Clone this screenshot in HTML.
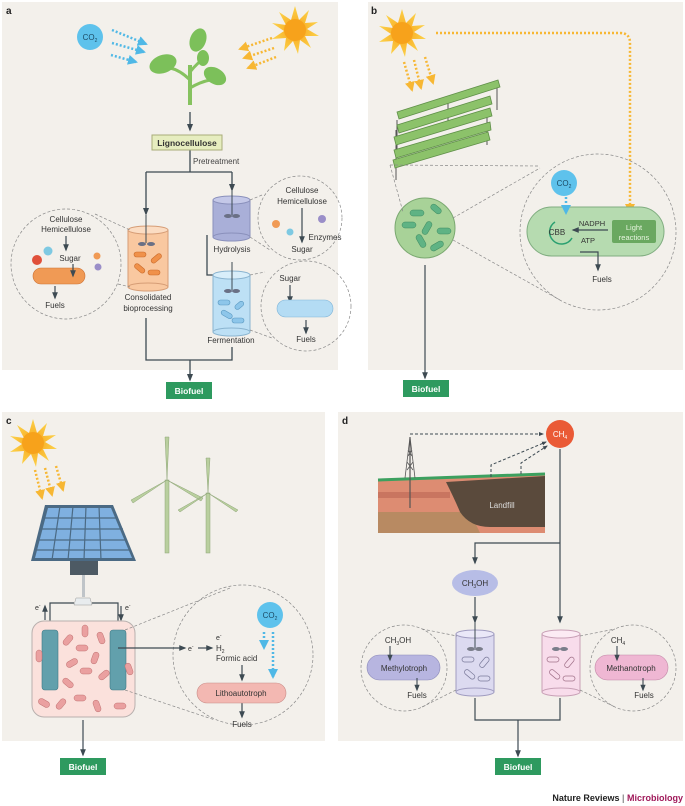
<!DOCTYPE html>
<html><head><meta charset="utf-8"><style>
html,body{margin:0;padding:0;background:#fff;width:685px;height:806px;overflow:hidden}
svg{display:block;font-family:"Liberation Sans",sans-serif}
</style></head><body>
<svg width="685" height="806" viewBox="0 0 685 806" xmlns="http://www.w3.org/2000/svg">
<defs>
<marker id="ah" viewBox="0 0 10 10" refX="8" refY="5" markerWidth="6" markerHeight="6" orient="auto"><path d="M0,1 L10,5 L0,9 z" fill="#3d4a52"/></marker>
<marker id="ay" viewBox="0 0 10 10" refX="8" refY="5" markerWidth="4" markerHeight="4" orient="auto"><path d="M0,0 L10,5 L0,10 z" fill="#f7b733"/></marker>
<marker id="ab" viewBox="0 0 10 10" refX="8" refY="5" markerWidth="4" markerHeight="4" orient="auto"><path d="M0,0 L10,5 L0,10 z" fill="#4fb8e6"/></marker>
<marker id="ad" viewBox="0 0 10 10" refX="8" refY="5" markerWidth="5" markerHeight="5" orient="auto"><path d="M0,1 L10,5 L0,9 z" fill="#3d4a52"/></marker>
<radialGradient id="sun"><stop offset="0" stop-color="#f7a21b"/><stop offset="1" stop-color="#fcd24a"/></radialGradient>
<g id="sunshape"><polygon fill="url(#sun)" points="0,-24 4,-10 14,-20 10,-7 23,-8 12,-1 24,6 10,6 16,18 5,10 3,24 -2,11 -11,21 -9,8 -23,9 -11,1 -23,-7 -9,-5 -16,-18 -4,-10"/><circle r="11" fill="#f7a21b"/></g>
</defs>
<g fill="#f3f0eb"><rect x="2" y="2" width="336" height="368"/><rect x="368" y="2" width="315" height="368"/><rect x="2" y="412" width="323" height="329"/><rect x="338" y="412" width="345" height="329"/></g>
<g font-weight="bold" font-size="10" fill="#222"><text x="6" y="14">a</text><text x="371" y="14">b</text><text x="6" y="424">c</text><text x="342" y="424">d</text></g>

<!-- PANEL A -->
<circle cx="90" cy="37" r="13" fill="#5ec2ec"/><text x="90" y="40" font-size="8" text-anchor="middle" fill="#1d4c66">CO<tspan font-size="5" dy="2">2</tspan></text>
<g stroke="#4fb8e6" stroke-width="2.5" stroke-dasharray="2,2" marker-end="url(#ab)" fill="none"><path d="M112,30 L146,44"/><path d="M112,43 L144,52"/><path d="M111,55 L136,62"/></g>
<use href="#sunshape" x="295" y="30"/>
<g stroke="#f7b733" stroke-width="2.5" stroke-dasharray="2,2" marker-end="url(#ay)" fill="none"><path d="M272,38 L240,49"/><path d="M274,48 L244,58"/><path d="M276,57 L248,68"/></g>
<g fill="#7cc05a"><path d="M190,105 L190,65" stroke="#86c25f" stroke-width="4"/><path d="M190,80 Q180,70 170,68" stroke="#86c25f" stroke-width="3" fill="none"/><path d="M190,72 Q198,62 205,58" stroke="#86c25f" stroke-width="3" fill="none"/><path d="M190,88 Q200,82 210,80" stroke="#86c25f" stroke-width="3" fill="none"/><ellipse cx="163" cy="64" rx="14" ry="9" transform="rotate(-20 163 64)"/><ellipse cx="198" cy="40" rx="8" ry="12" transform="rotate(20 198 40)"/><ellipse cx="203" cy="58" rx="6" ry="8"/><ellipse cx="215" cy="76" rx="12" ry="8" transform="rotate(30 215 76)"/></g>
<g stroke="#3d4a52" stroke-width="1.3" fill="none">
<path d="M190,112 L190,130" marker-end="url(#ah)"/>
<path d="M190,150 L190,172 M146,172 L232,172"/>
<path d="M146,172 L146,214" marker-end="url(#ah)"/><path d="M232,172 L232,190" marker-end="url(#ah)"/>
<path d="M207,235 L207,275 L213,275"/>
<path d="M146,318 L146,360 L232,360 L232,347"/><path d="M190,360 L190,380" marker-end="url(#ah)"/>
</g>
<rect x="152" y="135" width="70" height="15" fill="#e6edbf" stroke="#a8ad78"/><text x="187" y="146" font-size="8.5" font-weight="bold" text-anchor="middle" fill="#333">Lignocellulose</text>
<text x="193" y="164" font-size="8" fill="#444">Pretreatment</text>
<rect x="213" y="200" width="37" height="37" fill="#a9afd8" stroke="#8a90bb"/><ellipse cx="231.5" cy="200" rx="18.5" ry="4" fill="#c4c8e8" stroke="#8a90bb"/><ellipse cx="231.5" cy="237" rx="18.5" ry="4" fill="#a9afd8" stroke="#8a90bb"/>
<path d="M232,190 L232,215" stroke="#3d4a52"/><ellipse cx="228" cy="216" rx="4" ry="2" fill="#6a7085"/><ellipse cx="236" cy="216" rx="4" ry="2" fill="#6a7085"/>
<text x="232" y="252" font-size="8" text-anchor="middle" fill="#333">Hydrolysis</text>
<rect x="213" y="275" width="37" height="57" fill="#bde0f5" stroke="#8ab4d0"/><ellipse cx="231.5" cy="275" rx="18.5" ry="4" fill="#d8eefa" stroke="#8ab4d0"/><ellipse cx="231.5" cy="332" rx="18.5" ry="4" fill="#bde0f5" stroke="#8ab4d0"/>
<path d="M232,262 L232,290" stroke="#3d4a52"/><ellipse cx="228" cy="291" rx="4" ry="2" fill="#6a7085"/><ellipse cx="236" cy="291" rx="4" ry="2" fill="#6a7085"/>
<g fill="#8dc6ea" stroke="#5a98c0" stroke-width="0.6"><rect x="218" y="300" width="12" height="5" rx="2.5"/><rect x="234" y="303" width="10" height="5" rx="2.5" transform="rotate(-40 239 305)"/><rect x="221" y="312" width="12" height="5" rx="2.5" transform="rotate(30 227 314)"/><rect x="232" y="318" width="12" height="5" rx="2.5"/></g>
<text x="231" y="343" font-size="8" text-anchor="middle" fill="#333">Fermentation</text>
<rect x="128" y="230" width="40" height="57" fill="#f9c8a0" stroke="#d69d76"/><ellipse cx="148" cy="230" rx="20" ry="4" fill="#fbdcc2" stroke="#d69d76"/><ellipse cx="148" cy="287" rx="20" ry="4" fill="#f9c8a0" stroke="#d69d76"/>
<path d="M146,215 L146,243" stroke="#3d4a52"/><ellipse cx="142" cy="244" rx="4" ry="2" fill="#6a7085"/><ellipse cx="151" cy="244" rx="4" ry="2" fill="#6a7085"/>
<g fill="#f0914a" stroke="#c96a2a" stroke-width="0.6"><rect x="134" y="252" width="12" height="5" rx="2.5"/><rect x="150" y="256" width="12" height="5" rx="2.5" transform="rotate(-40 156 258)"/><rect x="134" y="266" width="12" height="5" rx="2.5" transform="rotate(40 140 268)"/><rect x="148" y="270" width="12" height="5" rx="2.5"/></g>
<text x="148" y="300" font-size="8" text-anchor="middle" fill="#333">Consolidated</text><text x="148" y="311" font-size="8" text-anchor="middle" fill="#333">bioprocessing</text>
<g stroke="#888" stroke-width="0.7" stroke-dasharray="3,2" fill="none"><circle cx="66" cy="264" r="55"/><circle cx="300" cy="218" r="42"/><circle cx="306" cy="306" r="45"/><path d="M95,214 L130,230 M118,284 L130,287 M250,200 L262,195 M250,237 L270,250 M250,275 L265,272 M250,330 L272,338"/></g>
<g font-size="8" fill="#333" text-anchor="middle"><text x="66" y="222">Cellulose</text><text x="66" y="232">Hemicellulose</text><text x="70" y="261">Sugar</text><text x="55" y="308">Fuels</text>
<text x="302" y="193">Cellulose</text><text x="302" y="204">Hemicellulose</text><text x="302" y="252">Sugar</text><text x="325" y="240">Enzymes</text>
<text x="290" y="281">Sugar</text><text x="306" y="342">Fuels</text></g>
<rect x="33" y="268" width="52" height="16" rx="8" fill="#f09a55" stroke="#cc7033" stroke-width="0.6"/>
<g stroke="#3d4a52" stroke-width="1.2" fill="none"><path d="M66,236 L66,250" marker-end="url(#ah)"/><path d="M73,264 L73,276" marker-end="url(#ah)"/><path d="M55,286 L55,298" marker-end="url(#ah)"/><path d="M302,208 L302,242" marker-end="url(#ah)"/><path d="M290,285 L290,302" marker-end="url(#ah)"/><path d="M306,320 L306,333" marker-end="url(#ah)"/></g>
<g><circle cx="48" cy="251" r="4.5" fill="#7ec9e2"/><circle cx="37" cy="260" r="5" fill="#e0503a"/><circle cx="97" cy="256" r="3.5" fill="#f09a55"/><circle cx="98" cy="267" r="3.5" fill="#9a8ec8"/><circle cx="276" cy="224" r="4" fill="#f09a55"/><circle cx="290" cy="232" r="3.5" fill="#7ec9e2"/><circle cx="322" cy="219" r="4" fill="#9a8ec8"/></g>
<rect x="277" y="300" width="56" height="17" rx="8.5" fill="#b4dcf4" stroke="#80b5d8" stroke-width="0.6"/>
<rect x="166" y="382" width="46" height="17" fill="#2e9a5f"/><text x="189" y="394" font-size="8.5" font-weight="bold" fill="#fff" text-anchor="middle">Biofuel</text>

<!-- PANEL B -->
<use href="#sunshape" x="402" y="33"/>
<path d="M436,33 L620,33 Q630,33 630,43 L630,212" stroke="#f7b733" stroke-width="2.5" stroke-dasharray="2,2" fill="none" marker-end="url(#ay)"/>
<g stroke="#f7b733" stroke-width="2.5" stroke-dasharray="2,2" marker-end="url(#ay)" fill="none"><path d="M404,62 L412,90"/><path d="M414,60 L421,88"/><path d="M425,57 L433,83"/></g>
<g stroke="#555" stroke-width="1"><path d="M396,130 L396,180 M487,110 L487,145 M397,120 L397,155 M448,100 L448,128 M497,85 L497,110"/></g>
<g fill="#8cc26a" stroke="#5f8f48" stroke-width="0.8">
<path d="M397,112 L498,80 L500,87 L399,119 z"/><path d="M397,125 L490,96 L492,104 L399,133 z"/><path d="M394,137 L490,108 L492,116 L396,145 z"/><path d="M394,150 L490,122 L491,130 L396,158 z"/><path d="M393,160 L488,132 L490,140 L395,168 z"/></g>
<circle cx="425" cy="228" r="30" fill="#a8d298" stroke="#7aa870"/>
<g fill="#5fb384" stroke="#3d8a60" stroke-width="0.5"><rect x="410" y="210" width="14" height="6" rx="3"/><rect x="430" y="206" width="12" height="6" rx="3" transform="rotate(40 436 209)"/><rect x="402" y="222" width="14" height="6" rx="3"/><rect x="420" y="225" width="14" height="6" rx="3" transform="rotate(-60 427 228)"/><rect x="437" y="228" width="14" height="6" rx="3"/><rect x="414" y="238" width="14" height="6" rx="3" transform="rotate(60 421 241)"/><rect x="430" y="243" width="14" height="6" rx="3" transform="rotate(-30 437 246)"/></g>
<g stroke="#888" stroke-width="0.7" stroke-dasharray="3,2" fill="none"><circle cx="598" cy="232" r="78"/><path d="M390,165 L403,212 M390,165 L540,166 M453,218 L540,168 M453,240 L560,300"/></g>
<path d="M425,265 L425,378" stroke="#3d4a52" stroke-width="1.2" marker-end="url(#ah)"/>
<circle cx="564" cy="183" r="13" fill="#5ec2ec"/><text x="564" y="186" font-size="8" text-anchor="middle" fill="#1d4c66">CO<tspan font-size="5" dy="2">2</tspan></text>
<rect x="527" y="207" width="137" height="49" rx="24.5" fill="#b6dbb0" stroke="#80ad80"/>
<path d="M566,197 L566,213" stroke="#4fb8e6" stroke-width="2.5" stroke-dasharray="2,2" marker-end="url(#ab)"/>
<rect x="612" y="220" width="44" height="23" fill="#6aa860" rx="2"/><text x="634" y="230" font-size="7.5" fill="#e8f5e0" text-anchor="middle">Light</text><text x="634" y="240" font-size="7.5" fill="#e8f5e0" text-anchor="middle">reactions</text>
<path d="M555,222 A12,12 0 1,0 572,238" stroke="#2aa070" stroke-width="1.5" fill="none"/>
<text x="557" y="235" font-size="8" text-anchor="middle" fill="#333">CBB</text><text x="592" y="226" font-size="7.5" text-anchor="middle" fill="#333">NADPH</text><text x="588" y="243" font-size="7.5" text-anchor="middle" fill="#333">ATP</text>
<g stroke="#3d4a52" stroke-width="1.2" fill="none"><path d="M608,230 L573,230" marker-end="url(#ah)"/><path d="M580,252 L598,252 L598,270" marker-end="url(#ah)"/></g>
<text x="602" y="282" font-size="8" text-anchor="middle" fill="#333">Fuels</text>
<rect x="403" y="380" width="46" height="17" fill="#2e9a5f"/><text x="426" y="392" font-size="8.5" font-weight="bold" fill="#fff" text-anchor="middle">Biofuel</text>

<!-- PANEL C -->
<use href="#sunshape" x="33" y="443"/>
<g stroke="#f7b733" stroke-width="2.5" stroke-dasharray="2,2" marker-end="url(#ay)" fill="none"><path d="M35,470 L42,498"/><path d="M45,468 L52,495"/><path d="M56,466 L63,490"/></g>
<path d="M45,505 L113,505 L136,561 L31,561 z" fill="#4b6a84"/>
<g fill="#7fb0e0"><path d="M48,508 L111,508 L132,558 L35,558 z"/></g>
<g stroke="#4b6a84" stroke-width="1.2"><path d="M60,506 L52,560 M73,506 L68,560 M86,506 L84,560 M99,506 L101,560 M44,518 L118,518 M40,529 L123,529 M37,540 L127,540 M34,550 L131,550"/></g>
<rect x="70" y="561" width="28" height="14" fill="#4d5a64"/><rect x="82" y="575" width="3" height="22" fill="#bfc4c8"/>
<path d="M76,598 L90,598 L92,605 L74,605 z" fill="#e8ecee" stroke="#999" stroke-width="0.5"/>
<g stroke="#3d4a52" stroke-width="1.2" fill="none"><path d="M74,603 L50,603 L50,630"/><path d="M92,603 L118,603 L118,630"/><path d="M45,620 L45,606" marker-end="url(#ah)"/><path d="M121,606 L121,620" marker-end="url(#ah)"/></g>
<text x="35" y="610" font-size="7" fill="#333">e<tspan font-size="5" dy="-3">-</tspan></text><text x="125" y="610" font-size="7" fill="#333">e<tspan font-size="5" dy="-3">-</tspan></text>
<g fill="#b9cf9e" stroke="#8ea578" stroke-width="0.5"><rect x="165" y="480" width="4" height="73"/><rect x="206" y="493" width="4" height="60"/><path d="M167,480 L165,437 L169,437 z"/><path d="M167,480 L131,500 L133,503 z"/><path d="M167,480 L203,498 L201,501 z"/><path d="M208,493 L206,458 L210,458 z"/><path d="M208,493 L178,510 L180,512 z"/><path d="M208,493 L238,510 L236,512 z"/></g>
<rect x="32" y="621" width="103" height="96" rx="12" fill="#fbe1dc" stroke="#b8b0ae"/>
<rect x="42" y="630" width="16" height="60" rx="3" fill="#62a0ac" stroke="#3e7a86" stroke-width="0.6"/><rect x="110" y="630" width="16" height="60" rx="3" fill="#62a0ac" stroke="#3e7a86" stroke-width="0.6"/>
<g fill="#eaa0a0" stroke="#c07272" stroke-width="0.5"><rect x="82" y="625" width="6" height="12" rx="3"/><rect x="65" y="634" width="6" height="12" rx="3" transform="rotate(40 68 640)"/><rect x="98" y="632" width="6" height="12" rx="3" transform="rotate(-20 101 638)"/><rect x="76" y="645" width="12" height="6" rx="3"/><rect x="92" y="652" width="6" height="12" rx="3" transform="rotate(20 95 658)"/><rect x="66" y="660" width="12" height="6" rx="3" transform="rotate(-30 72 663)"/><rect x="80" y="668" width="12" height="6" rx="3"/><rect x="98" y="672" width="12" height="6" rx="3" transform="rotate(-40 104 675)"/><rect x="38" y="700" width="12" height="6" rx="3" transform="rotate(30 44 703)"/><rect x="58" y="698" width="6" height="12" rx="3" transform="rotate(40 61 704)"/><rect x="74" y="695" width="12" height="6" rx="3"/><rect x="94" y="700" width="6" height="12" rx="3" transform="rotate(-20 97 706)"/><rect x="114" y="703" width="12" height="6" rx="3"/><rect x="62" y="680" width="12" height="6" rx="3" transform="rotate(40 68 683)"/><rect x="36" y="650" width="6" height="12" rx="3"/><rect x="126" y="663" width="6" height="12" rx="3" transform="rotate(-20 129 669)"/></g>
<g stroke="#888" stroke-width="0.7" stroke-dasharray="3,2" fill="none"><circle cx="243" cy="655" r="70"/><path d="M125,630 L230,588 M125,690 L215,720"/></g>
<g stroke="#3d4a52" stroke-width="1.2" fill="none"><path d="M118,648 L185,648" marker-end="url(#ah)"/><path d="M198,648 L212,648" marker-end="url(#ah)"/><path d="M242,665 L242,680" marker-end="url(#ah)"/><path d="M242,703 L242,717" marker-end="url(#ah)"/></g>
<text x="188" y="651" font-size="7" fill="#333">e<tspan font-size="5" dy="-3">-</tspan></text>
<text x="216" y="640" font-size="7" fill="#333">e<tspan font-size="5" dy="-3">-</tspan></text><text x="216" y="651" font-size="8" fill="#333">H<tspan font-size="5" dy="2">2</tspan></text><text x="216" y="661" font-size="8" fill="#333">Formic acid</text>
<circle cx="270" cy="615" r="13" fill="#5ec2ec"/><text x="270" y="618" font-size="8" text-anchor="middle" fill="#1d4c66">CO<tspan font-size="5" dy="2">2</tspan></text>
<g stroke="#4fb8e6" stroke-width="2.5" stroke-dasharray="2,2" marker-end="url(#ab)" fill="none"><path d="M264,632 L264,648"/><path d="M273,632 L273,677"/></g>
<rect x="197" y="683" width="89" height="20" rx="10" fill="#f3b8b2" stroke="#c98b86" stroke-width="0.6"/><text x="241" y="696" font-size="8" text-anchor="middle" fill="#333">Lithoautotroph</text>
<text x="242" y="727" font-size="8" text-anchor="middle" fill="#333">Fuels</text>
<path d="M83,720 L83,755" stroke="#3d4a52" stroke-width="1.2" marker-end="url(#ah)"/>
<rect x="60" y="758" width="46" height="17" fill="#2e9a5f"/><text x="83" y="770" font-size="8.5" font-weight="bold" fill="#fff" text-anchor="middle">Biofuel</text>

<!-- PANEL D -->
<path d="M378,481 L545,475 L545,533 L378,533 z" fill="#dd8c72"/>
<path d="M378,492 L450,492 L450,498 L378,498 z" fill="#c97560"/>
<path d="M378,512 L470,512 L480,533 L378,533 z" fill="#b88a62"/>
<path d="M446,482 Q455,500 460,512 Q470,527 490,527 L545,527 L545,476 z" fill="#5a4a3c"/>
<path d="M378,480 L545,474" stroke="#3ca05f" stroke-width="3"/>
<text x="502" y="508" font-size="8" fill="#ddd" text-anchor="middle">Landfill</text>
<g stroke="#555" stroke-width="0.8" fill="none"><path d="M405,478 L410,437 L415,478 M407,462 L413,470 M413,462 L407,470 M408,450 L412,456 M412,450 L408,456"/><path d="M410,437 L410,508" stroke-width="1.2"/></g>
<g stroke="#3d4a52" stroke-width="1" stroke-dasharray="3,2" fill="none"><path d="M410,434 L543,434" marker-end="url(#ad)"/><path d="M491,477 L491,465 L546,442" marker-end="url(#ad)"/><path d="M521,474 L521,463 L547,446" marker-end="url(#ad)"/></g>
<circle cx="560" cy="434" r="14" fill="#ea5a36"/><text x="560" y="437" font-size="8" text-anchor="middle" fill="#fff">CH<tspan font-size="5" dy="2">4</tspan></text>
<g stroke="#3d4a52" stroke-width="1.2" fill="none"><path d="M560,449 L560,622" marker-end="url(#ah)"/><path d="M560,543 L475,543 L475,563" marker-end="url(#ah)"/><path d="M475,597 L475,622" marker-end="url(#ah)"/><path d="M475,698 L475,720 L560,720 L560,698"/><path d="M518,720 L518,756" marker-end="url(#ah)"/></g>
<ellipse cx="475" cy="583" rx="23" ry="13" fill="#b7bde6"/><text x="475" y="586" font-size="8" text-anchor="middle" fill="#333">CH<tspan font-size="5" dy="2">3</tspan><tspan dy="-2">OH</tspan></text>
<rect x="456" y="634" width="38" height="58" fill="#dcdaf0" stroke="#a09cc0"/><ellipse cx="475" cy="634" rx="19" ry="4" fill="#eae8f8" stroke="#a09cc0"/><ellipse cx="475" cy="692" rx="19" ry="4" fill="#dcdaf0" stroke="#a09cc0"/>
<path d="M475,622 L475,648" stroke="#3d4a52"/><ellipse cx="471" cy="649" rx="4" ry="2" fill="#7a7d8a"/><ellipse cx="479" cy="649" rx="4" ry="2" fill="#7a7d8a"/>
<rect x="542" y="634" width="38" height="58" fill="#f8dceb" stroke="#c8a0b6"/><ellipse cx="561" cy="634" rx="19" ry="4" fill="#fcebf4" stroke="#c8a0b6"/><ellipse cx="561" cy="692" rx="19" ry="4" fill="#f8dceb" stroke="#c8a0b6"/>
<ellipse cx="556" cy="649" rx="4" ry="2" fill="#7a7d8a"/><ellipse cx="564" cy="649" rx="4" ry="2" fill="#7a7d8a"/>
<g fill="none" stroke="#7a7a9a" stroke-width="0.7"><rect x="462" y="657" width="12" height="5" rx="2.5"/><rect x="478" y="660" width="12" height="5" rx="2.5" transform="rotate(-50 484 662)"/><rect x="464" y="672" width="12" height="5" rx="2.5" transform="rotate(40 470 674)"/><rect x="478" y="676" width="12" height="5" rx="2.5"/></g>
<g fill="none" stroke="#a07088" stroke-width="0.7"><rect x="547" y="657" width="12" height="5" rx="2.5"/><rect x="563" y="660" width="12" height="5" rx="2.5" transform="rotate(-50 569 662)"/><rect x="549" y="672" width="12" height="5" rx="2.5" transform="rotate(40 555 674)"/><rect x="563" y="676" width="12" height="5" rx="2.5"/></g>
<g stroke="#888" stroke-width="0.7" stroke-dasharray="3,2" fill="none"><circle cx="404" cy="668" r="43"/><circle cx="633" cy="668" r="43"/><path d="M422,629 L457,636 M422,707 L456,690 M580,636 L615,629 M580,690 L615,707"/></g>
<rect x="367" y="655" width="73" height="25" rx="12.5" fill="#b7b5e0" stroke="#8a88b8" stroke-width="0.6"/><text x="404" y="671" font-size="8" text-anchor="middle" fill="#333">Methylotroph</text>
<rect x="595" y="655" width="73" height="25" rx="12.5" fill="#efb7d3" stroke="#c286a6" stroke-width="0.6"/><text x="631" y="671" font-size="8" text-anchor="middle" fill="#333">Methanotroph</text>
<text x="398" y="643" font-size="8" text-anchor="middle" fill="#333">CH<tspan font-size="5" dy="2">3</tspan><tspan dy="-2">OH</tspan></text><text x="618" y="643" font-size="8" text-anchor="middle" fill="#333">CH<tspan font-size="5" dy="2">4</tspan></text>
<text x="417" y="698" font-size="8" text-anchor="middle" fill="#333">Fuels</text><text x="644" y="698" font-size="8" text-anchor="middle" fill="#333">Fuels</text>
<g stroke="#3d4a52" stroke-width="1.1" fill="none"><path d="M390,646 L390,660" marker-end="url(#ah)"/><path d="M417,678 L417,690" marker-end="url(#ah)"/><path d="M617,646 L617,660" marker-end="url(#ah)"/><path d="M643,678 L643,690" marker-end="url(#ah)"/></g>
<rect x="495" y="758" width="46" height="17" fill="#2e9a5f"/><text x="518" y="770" font-size="8.5" font-weight="bold" fill="#fff" text-anchor="middle">Biofuel</text>
<text x="683" y="801" font-size="9" font-weight="bold" text-anchor="end" fill="#222">Nature Reviews <tspan fill="#888">|</tspan> <tspan fill="#a0195a">Microbiology</tspan></text>
</svg>
</body></html>
